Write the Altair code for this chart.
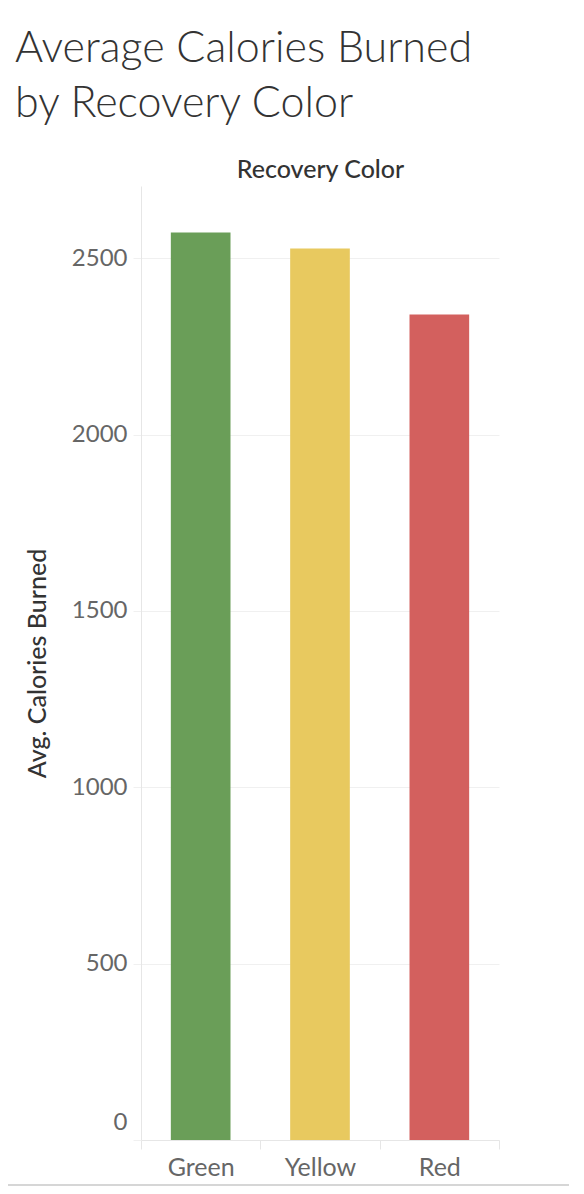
import altair as alt
import pandas as pd

colors_cat = ["Green", "Yellow", "Red"]
avg_calories = [2573, 2528, 2341]
bar_colors = ["#6a9e58", "#e8c95f", "#d3605e"]
y_ticks = [0, 500, 1000, 1500, 2000, 2500]

df = pd.DataFrame({"color": colors_cat, "calories": avg_calories})

FONT = "Lato"

x_scale = alt.Scale(domain=colors_cat, paddingInner=0, paddingOuter=0)
y_scale = alt.Scale(domain=[0, 2705], nice=False, zero=True)
color_scale = alt.Scale(domain=colors_cat, range=bar_colors)

bars = alt.Chart(df).mark_bar(width=alt.RelativeBandSize(0.5)).encode(
    x=alt.X("color:N", scale=x_scale, sort=colors_cat,
            axis=alt.Axis(orient="bottom", title=None, labelAngle=0,
                          labelFont=FONT, labelFontSize=25, labelColor="#666666",
                          labelFontWeight=400, labelPadding=6,
                          domainColor="#e6e6e6", tickColor="#e6e6e6",
                          tickBand="extent", tickSize=9, grid=False)),
    y=alt.Y("calories:Q", scale=y_scale,
            axis=alt.Axis(title="Avg. Calories Burned", values=y_ticks, format="d",
                          labelFont=FONT, labelFontSize=24, labelColor="#666666",
                          labelPadding=6,
                          labelOffset={"condition": {"test": "datum.value === 0", "value": -18}, "value": 0},
                          titleFont=FONT, titleFontSize=25, titleFontWeight=500,
                          titleColor="#333333", titlePadding=21,
                          domainColor="#e6e6e6", tickColor="#f0f0f0", tickSize=8,
                          gridColor="#f0f0f0", grid=True)),
    color=alt.Color("color:N", scale=color_scale, legend=None),
)

header = alt.Chart(df).mark_bar(opacity=0).encode(
    x=alt.X("color:N", scale=x_scale, sort=colors_cat,
            axis=alt.Axis(orient="top", title="Recovery Color", labels=False, ticks=False,
                          domain=False, grid=False,
                          titleFont=FONT, titleFontSize=25, titleFontWeight=500,
                          titleColor="#333333", titleBaseline="alphabetic", titlePadding=9)),
    y=alt.Y("calories:Q", scale=y_scale),
)

footer = alt.Chart(df).mark_rule(color="#d6d6d6", strokeWidth=2).encode(
    x=alt.value(-141), x2=alt.value(443), y=alt.value(999)
)

chart = alt.layer(bars, header, footer).resolve_axis(x="independent").properties(
    width=358,
    height=954,
    title=alt.Title(
        ["Average Calories Burned", "by Recovery Color"],
        anchor="start", frame="group", dx=-126, offset=31,
        font=FONT, fontSize=43, fontWeight=300, color="#333333", lineHeight=55,
    ),
    autosize=alt.AutoSizeParams(type="none"),
    padding={"left": 133, "top": 178, "right": 70, "bottom": 46},
).configure(background="white").configure_view(stroke=None)

chart.save("out.html", embed_options={"renderer": "svg", "actions": False})
